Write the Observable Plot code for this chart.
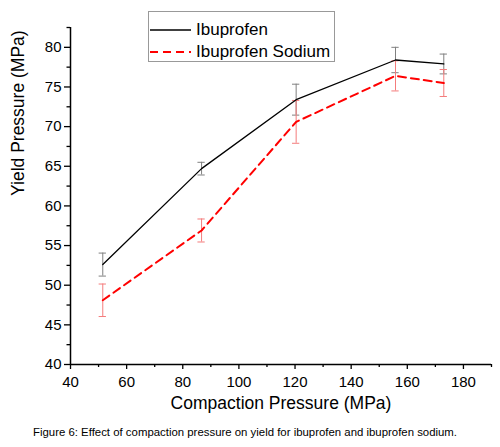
<!DOCTYPE html>
<html>
<head>
<meta charset="utf-8">
<script src="https://cdn.jsdelivr.net/npm/d3@7"></script>
<script src="https://cdn.jsdelivr.net/npm/@observablehq/plot@0.6"></script>
<style>
  body { margin: 0; background: #fff; font-family: "Liberation Sans", Arial, sans-serif; }
  #wrap { position: relative; width: 500px; height: 447px; }
  #legend {
    position: absolute; left: 148px; top: 11px; width: 185px; height: 49px;
    border: 1px solid #999; background: #fff; font-size: 17px; color: #000;
  }
  #legend .row { position: absolute; left: 1px; height: 20px; display: flex; align-items: center; }
  #legend svg { margin-right: 5px; }
  #caption { position: absolute; left: 33px; top: 426px; font-size: 11.4px; color: #000; white-space: nowrap; }
</style>
</head>
<body>
<div id="wrap">
  <div id="chart"></div>
  <div id="legend"></div>
  <div id="caption">Figure 6: Effect of compaction pressure on yield for ibuprofen and ibuprofen sodium.</div>
</div>
<script>
// values
var pressure = [51.5, 86.7, 120.4, 155.8, 173]
var ibuprofen = [52.6, 64.7, 73.4, 78.4, 77.9]
var ibuprofenErr = [1.45, 0.8, 1.95, 1.6, 1.25]
var sodium = [48.1, 56.9, 70.6, 76.4, 75.5]
var sodiumErr = [2.05, 1.45, 2.7, 1.9, 1.7]

var xTicks = [40, 60, 80, 100, 120, 140, 160, 180]
var xMinor = [50, 70, 90, 110, 130, 150, 170, 190]
var yTicks = [40, 45, 50, 55, 60, 65, 70, 75, 80]
var yMinor = [42.5, 47.5, 52.5, 57.5, 62.5, 67.5, 72.5, 77.5, 82.5]

var series = [
  {name: "Ibuprofen", values: ibuprofen, err: ibuprofenErr, color: "#000", errColor: "#808080", dash: null, width: 1.3},
  {name: "Ibuprofen Sodium", values: sodium, err: sodiumErr, color: "#ff0000", errColor: "#f47c7c", dash: "8,5", width: 2}
]

var rows = []
series.forEach(s => {
  pressure.forEach((p, i) => {
    rows.push({series: s.name, x: p, y: s.values[i], lo: s.values[i] - s.err[i], hi: s.values[i] + s.err[i]})
  })
})

var cap = 1.3
var marks = []
series.forEach(s => {
  var d = rows.filter(r => r.series == s.name)
  marks.push(
    Plot.ruleX(d, {x: "x", y1: "lo", y2: "hi", stroke: s.errColor, strokeWidth: 1}),
    Plot.ruleY(d, {y: "hi", x1: r => r.x - cap, x2: r => r.x + cap, stroke: s.errColor, strokeWidth: 1}),
    Plot.ruleY(d, {y: "lo", x1: r => r.x - cap, x2: r => r.x + cap, stroke: s.errColor, strokeWidth: 1})
  )
})
series.forEach(s => {
  var d = rows.filter(r => r.series == s.name)
  marks.push(Plot.line(d, {x: "x", y: "y", stroke: s.color, strokeWidth: s.width, strokeDasharray: s.dash}))
})

var chart = Plot.plot({
  width: 500,
  height: 420,
  marginTop: 27,
  marginLeft: 70,
  marginRight: 9,
  marginBottom: 56,
  x: {domain: [40, 190]},
  y: {domain: [40, 82.5]},
  style: {fontFamily: "Liberation Sans, Arial, sans-serif", fontSize: 15, color: "#000", background: "#fff"},
  marks: [
    ...marks,
    Plot.axisX({ticks: xTicks, tickSize: 5, tickPadding: 7, fontSize: 15, label: null, strokeWidth: 1.3}),
    Plot.axisX({ticks: xMinor, tickSize: 3, tickFormat: () => "", label: null, strokeWidth: 1.3}),
    Plot.axisY({ticks: yTicks, tickSize: 6, tickPadding: 3, fontSize: 15, label: null, strokeWidth: 1.3}),
    Plot.axisY({ticks: yMinor, tickSize: 3.5, tickFormat: () => "", label: null, strokeWidth: 1.3}),
    Plot.ruleX([40], {stroke: "#000", strokeWidth: 1.5}),
    Plot.ruleY([40], {stroke: "#000", strokeWidth: 1.5}),
    Plot.text(["Compaction Pressure (MPa)"], {frameAnchor: "bottom", dy: 44, text: d => d, fontSize: 17.5}),
    Plot.text(["Yield Pressure (MPa)"], {frameAnchor: "left", dx: -52, rotate: -90, text: d => d, fontSize: 17.5})
  ]
})
d3.select("#chart").append(() => chart)

// legend
var legend = d3.select("#legend")
series.forEach((s, i) => {
  var row = legend.append("div").attr("class", "row").style("top", (8 + i * 22) + "px")
  var sw = row.append("svg").attr("width", 41).attr("height", 10)
  sw.append("line").attr("x1", 0).attr("x2", 41).attr("y1", 5).attr("y2", 5)
    .attr("stroke", s.color).attr("stroke-width", s.width).attr("stroke-dasharray", s.dash)
  row.append("span").text(s.name)
})
</script>
</body>
</html>
